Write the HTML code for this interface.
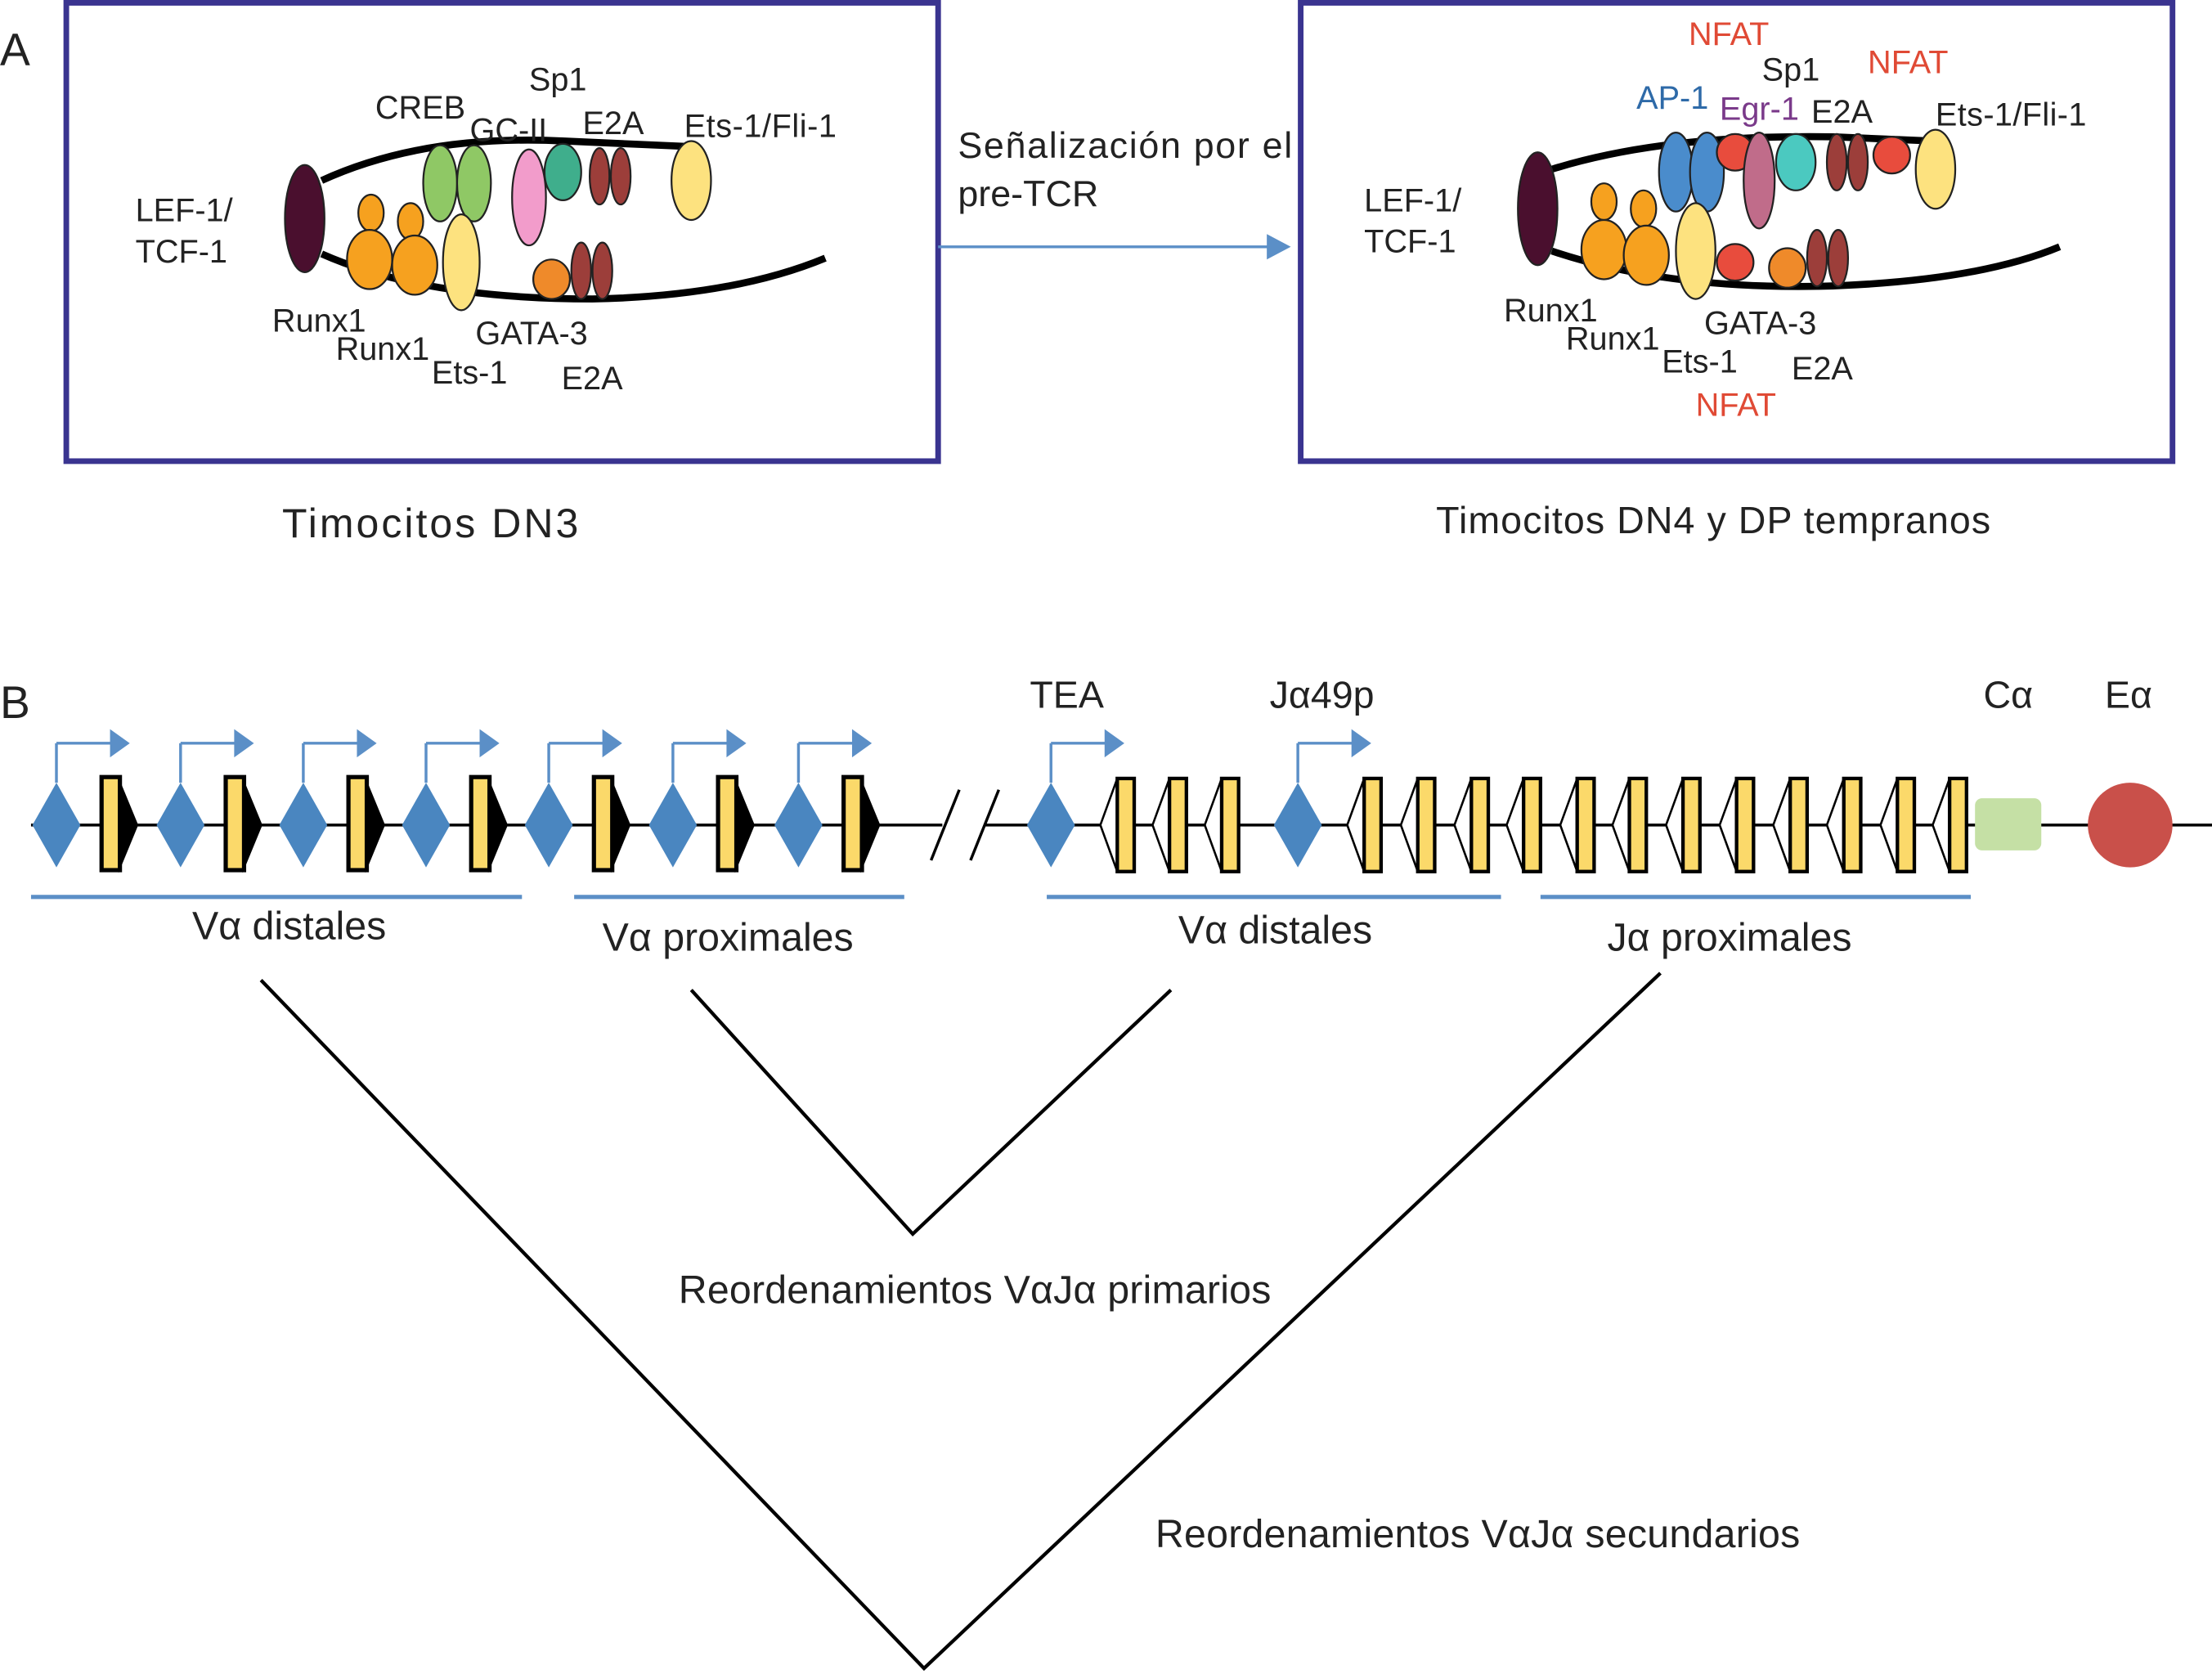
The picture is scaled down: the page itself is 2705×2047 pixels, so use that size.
<!DOCTYPE html>
<html><head><meta charset="utf-8"><style>
html,body{margin:0;padding:0;background:#fff;}
svg{display:block;}
text{font-family:"Liberation Sans",sans-serif;fill:#222;}
</style></head><body>
<svg width="2705" height="2047" viewBox="0 0 1568 1187" preserveAspectRatio="none" xmlns="http://www.w3.org/2000/svg">
<defs>
<g id="vunit">
 <line x1="0" y1="555" x2="0" y2="527" stroke="#5b8fc7" stroke-width="2"/>
 <line x1="0" y1="527" x2="40" y2="527" stroke="#5b8fc7" stroke-width="2"/>
 <polygon points="38,517 52,527 38,537" fill="#5b8fc7"/>
 <polygon points="0,555 17,585 0,615 -17,585" fill="#4a86c0"/>
 <polygon points="44,551 58,585 44,619" fill="#000"/>
 <rect x="32" y="551" width="13" height="66" fill="#fbd96a" stroke="#000" stroke-width="3"/>
</g>
<g id="junit">
 <polygon points="12,552 0,585 12,618" fill="#fff" stroke="#000" stroke-width="1.5"/>
 <rect x="12" y="552" width="12" height="66" fill="#fbd96a" stroke="#000" stroke-width="2.5"/>
</g>
<g id="prom">
 <line x1="0" y1="555" x2="0" y2="527" stroke="#5b8fc7" stroke-width="2"/>
 <line x1="0" y1="527" x2="40" y2="527" stroke="#5b8fc7" stroke-width="2"/>
 <polygon points="38,517 52,527 38,537" fill="#5b8fc7"/>
 <polygon points="0,555 17,585 0,615 -17,585" fill="#4a86c0"/>
</g>
</defs>
<rect width="1568" height="1187" fill="#fff"/>
<!-- Panel A -->
<text x="0" y="46" font-size="32">A</text>
<rect x="47" y="2" width="618" height="325" fill="none" stroke="#3a3490" stroke-width="4"/>
<rect x="922" y="2" width="618" height="325" fill="none" stroke="#3a3490" stroke-width="4"/>
<line x1="665" y1="175" x2="900" y2="175" stroke="#5b8fc7" stroke-width="2"/>
<polygon points="898,166 915,175 898,184" fill="#5b8fc7"/>
<text x="679" y="112" font-size="26" textLength="237">Señalización por el</text>
<text x="679" y="146" font-size="26">pre-TCR</text>

<g stroke="#222" stroke-width="1.3">
<path d="M228,128 Q300,95 400,100 L490,104" fill="none" stroke="#000" stroke-width="5"/>
<path d="M228,180 Q300,212 420,212 Q520,210 585,183" fill="none" stroke="#000" stroke-width="5"/>
<ellipse cx="216" cy="155" rx="14" ry="38" fill="#4a0f2e"/>
<ellipse cx="263" cy="151" rx="9" ry="13" fill="#f6a11f"/>
<ellipse cx="291" cy="157" rx="9" ry="13" fill="#f6a11f"/>
<ellipse cx="262" cy="184" rx="16" ry="21" fill="#f6a11f"/>
<ellipse cx="294" cy="188" rx="16" ry="21" fill="#f6a11f"/>
<ellipse cx="312" cy="130" rx="12" ry="27" fill="#8fc865"/>
<ellipse cx="336" cy="130" rx="12" ry="27" fill="#8fc865"/>
<ellipse cx="327" cy="186" rx="13" ry="34" fill="#fde27f"/>
<ellipse cx="375" cy="140" rx="12" ry="34" fill="#f29ccb"/>
<ellipse cx="399" cy="122" rx="13" ry="20" fill="#3fae8c"/>
<ellipse cx="425" cy="125" rx="7" ry="20" fill="#9c3e3a"/>
<ellipse cx="440" cy="125" rx="7" ry="20" fill="#9c3e3a"/>
<ellipse cx="490" cy="128" rx="14" ry="28" fill="#fde27f"/>
<ellipse cx="391" cy="198" rx="13" ry="14" fill="#ef8a2a"/>
<ellipse cx="412" cy="192" rx="7" ry="20" fill="#9c3e3a"/>
<ellipse cx="427" cy="192" rx="7" ry="20" fill="#9c3e3a"/>
</g>
<g font-size="23">
<text x="266" y="84">CREB</text><text x="375" y="64">Sp1</text>
<text x="333" y="100">GC-II</text><text x="413" y="95">E2A</text>
<text x="485" y="97" textLength="108">Ets-1/Fli-1</text>
<text x="96" y="157">LEF-1/</text><text x="96" y="186">TCF-1</text>
<text x="193" y="235">Runx1</text><text x="238" y="255">Runx1</text>
<text x="337" y="244">GATA-3</text><text x="306" y="272">Ets-1</text>
<text x="398" y="276">E2A</text>
</g>

<g stroke="#222" stroke-width="1.3">
<path d="M1100,120 Q1180,95 1300,97 L1370,100" fill="none" stroke="#000" stroke-width="5"/>
<path d="M1100,178 Q1180,205 1290,203 Q1400,200 1460,175" fill="none" stroke="#000" stroke-width="5"/>
<ellipse cx="1090" cy="148" rx="14" ry="40" fill="#4a0f2e"/>
<ellipse cx="1137" cy="143" rx="9" ry="13" fill="#f6a11f"/>
<ellipse cx="1165" cy="148" rx="9" ry="13" fill="#f6a11f"/>
<ellipse cx="1137" cy="177" rx="16" ry="21" fill="#f6a11f"/>
<ellipse cx="1167" cy="181" rx="16" ry="21" fill="#f6a11f"/>
<ellipse cx="1188" cy="122" rx="12" ry="28" fill="#4a8ccc"/>
<ellipse cx="1210" cy="122" rx="12" ry="28" fill="#4a8ccc"/>
<ellipse cx="1202" cy="178" rx="14" ry="34" fill="#fde27f"/>
<circle cx="1230" cy="108" r="13" fill="#e84c3d"/>
<circle cx="1230" cy="186" r="13" fill="#e84c3d"/>
<ellipse cx="1247" cy="128" rx="11" ry="34" fill="#c06c8a"/>
<ellipse cx="1273" cy="115" rx="14" ry="20" fill="#4bc9c0"/>
<ellipse cx="1302" cy="115" rx="7" ry="20" fill="#9c3e3a"/>
<ellipse cx="1317" cy="115" rx="7" ry="20" fill="#9c3e3a"/>
<circle cx="1341" cy="110" r="13" fill="#e84c3d"/>
<ellipse cx="1372" cy="120" rx="14" ry="28" fill="#fde27f"/>
<ellipse cx="1267" cy="190" rx="13" ry="14" fill="#ef8a2a"/>
<ellipse cx="1288" cy="183" rx="7" ry="20" fill="#9c3e3a"/>
<ellipse cx="1303" cy="183" rx="7" ry="20" fill="#9c3e3a"/>
</g>
<g font-size="23">
<text x="1197" y="32" style="fill:#e04a35">NFAT</text>
<text x="1249" y="57">Sp1</text>
<text x="1324" y="52" style="fill:#e04a35">NFAT</text>
<text x="1160" y="77" style="fill:#2e6aa8">AP-1</text>
<text x="1219" y="85" style="fill:#7a3a8a">Egr-1</text>
<text x="1284" y="87">E2A</text>
<text x="1372" y="89" textLength="107">Ets-1/Fli-1</text>
<text x="967" y="150">LEF-1/</text><text x="967" y="179">TCF-1</text>
<text x="1066" y="228">Runx1</text><text x="1110" y="248">Runx1</text>
<text x="1208" y="237">GATA-3</text><text x="1178" y="264">Ets-1</text>
<text x="1270" y="269">E2A</text>
<text x="1202" y="295" style="fill:#e04a35">NFAT</text>
</g>
<text x="200" y="381" font-size="29" textLength="210">Timocitos DN3</text>
<text x="1018" y="378" font-size="27" textLength="393">Timocitos DN4 y DP tempranos</text>

<!-- Panel B -->
<text x="0" y="509" font-size="32">B</text>
<line x1="22" y1="585" x2="668" y2="585" stroke="#000" stroke-width="2"/>
<line x1="698" y1="585" x2="1568" y2="585" stroke="#000" stroke-width="2"/>
<line x1="660" y1="610" x2="680" y2="560" stroke="#000" stroke-width="2"/>
<line x1="688" y1="610" x2="708" y2="560" stroke="#000" stroke-width="2"/>
<use href="#vunit" x="40"/><use href="#vunit" x="128"/><use href="#vunit" x="215"/>
<use href="#vunit" x="302"/><use href="#vunit" x="389"/><use href="#vunit" x="477"/>
<use href="#vunit" x="566"/>
<use href="#prom" x="745"/>
<use href="#junit" x="780"/><use href="#junit" x="817"/><use href="#junit" x="854"/>
<use href="#prom" x="920"/>
<use href="#junit" x="955"/><use href="#junit" x="993"/><use href="#junit" x="1031"/>
<use href="#junit" x="1068"/><use href="#junit" x="1106"/><use href="#junit" x="1143"/>
<use href="#junit" x="1181"/><use href="#junit" x="1219"/><use href="#junit" x="1257"/>
<use href="#junit" x="1295"/><use href="#junit" x="1333"/><use href="#junit" x="1370"/>
<rect x="1400" y="566" width="47" height="37" rx="5" fill="#c5e0a5"/>
<circle cx="1510" cy="585" r="30" fill="#c9504a"/>
<g font-size="27">
<text x="730" y="502">TEA</text><text x="900" y="502">Jα49p</text>
<text x="1406" y="502">Cα</text><text x="1492" y="502">Eα</text>
</g>
<g stroke="#5b8fc7" stroke-width="3">
<line x1="22" y1="636" x2="370" y2="636"/><line x1="407" y1="636" x2="641" y2="636"/>
<line x1="742" y1="636" x2="1064" y2="636"/><line x1="1092" y1="636" x2="1397" y2="636"/>
</g>
<g font-size="28" text-anchor="middle">
<text x="205" y="666">Vα distales</text><text x="516" y="674">Vα proximales</text>
<text x="904" y="669">Vα distales</text><text x="1226" y="674">Jα proximales</text>
</g>
<polyline points="185,695 655,1183 1177,690" fill="none" stroke="#000" stroke-width="2.5"/>
<polyline points="490,702 647,875 830,702" fill="none" stroke="#000" stroke-width="2.5"/>
<g font-size="28">
<text x="481" y="924" textLength="420">Reordenamientos VαJα primarios</text>
<text x="819" y="1097" textLength="457">Reordenamientos VαJα secundarios</text>
</g>
</svg>
</body></html>
